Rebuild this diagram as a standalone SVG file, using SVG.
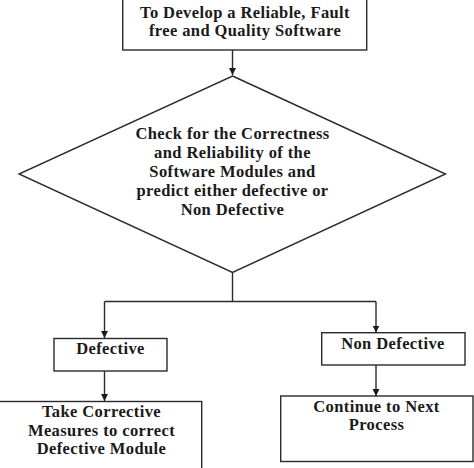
<svg xmlns="http://www.w3.org/2000/svg" width="474" height="468" viewBox="0 0 474 468">
<style>
.box{fill:#fff;stroke:#2a2a2a;stroke-width:1.4}
.t{font-family:"Liberation Serif","Times New Roman",serif;font-weight:bold;font-size:16.5px;letter-spacing:0.4px;fill:#1a1a1a;text-anchor:middle}
.c{fill:none;stroke:#2a2a2a;stroke-width:1.4}
</style>
<defs>
<marker id="ah" markerWidth="8" markerHeight="8" refX="7" refY="4" orient="auto" markerUnits="userSpaceOnUse">
<path d="M0,0.5 L7,4 L0,7.5 Z" fill="#1a1a1a"/>
</marker>
</defs>
<rect width="474" height="468" fill="#fff"/>
<g id="connectors">
<line class="c" x1="232.5" y1="50" x2="232.5" y2="75" marker-end="url(#ah)"/>
<polyline class="c" points="232.5,272.5 232.5,301.5"/>
<polyline class="c" points="104.5,301.5 376,301.5"/>
<line class="c" x1="104.5" y1="301.5" x2="104.5" y2="338" marker-end="url(#ah)"/>
<line class="c" x1="376" y1="301.5" x2="376" y2="332.5" marker-end="url(#ah)"/>
<line class="c" x1="104.5" y1="371" x2="104.5" y2="401" marker-end="url(#ah)"/>
<line class="c" x1="376" y1="365" x2="376" y2="396" marker-end="url(#ah)"/>
</g>
<g id="start">
<rect class="box" x="122.7" y="-2" width="244" height="52"/>
<text class="t" x="245" y="18">To Develop a Reliable, Fault</text>
<text class="t" x="245" y="36">free and Quality Software</text>
</g>
<g id="decision">
<polygon class="box" points="232.5,76 445.5,174 232.5,272.5 19,174"/>
<text class="t" x="232.5" y="139">Check for the Correctness</text>
<text class="t" x="232.5" y="158">and Reliability of the</text>
<text class="t" x="232.5" y="177">Software Modules and</text>
<text class="t" x="232.5" y="196">predict either defective or</text>
<text class="t" x="232.5" y="215">Non Defective</text>
</g>
<g id="defective">
<rect class="box" x="54" y="338.5" width="113" height="32.5"/>
<text class="t" x="110.5" y="354">Defective</text>
</g>
<g id="nondefective">
<rect class="box" x="321.7" y="332.7" width="143.3" height="32.3"/>
<text class="t" x="393" y="349">Non Defective</text>
</g>
<g id="corrective">
<rect class="box" x="-2" y="401.5" width="203.7" height="72"/>
<text class="t" x="101.5" y="417">Take Corrective</text>
<text class="t" x="101.5" y="436">Measures to correct</text>
<text class="t" x="101.5" y="454">Defective Module</text>
</g>
<g id="continue">
<rect class="box" x="280.7" y="396" width="192.3" height="65.5"/>
<text class="t" x="376.5" y="412">Continue to Next</text>
<text class="t" x="376.5" y="430">Process</text>
</g>
</svg>
